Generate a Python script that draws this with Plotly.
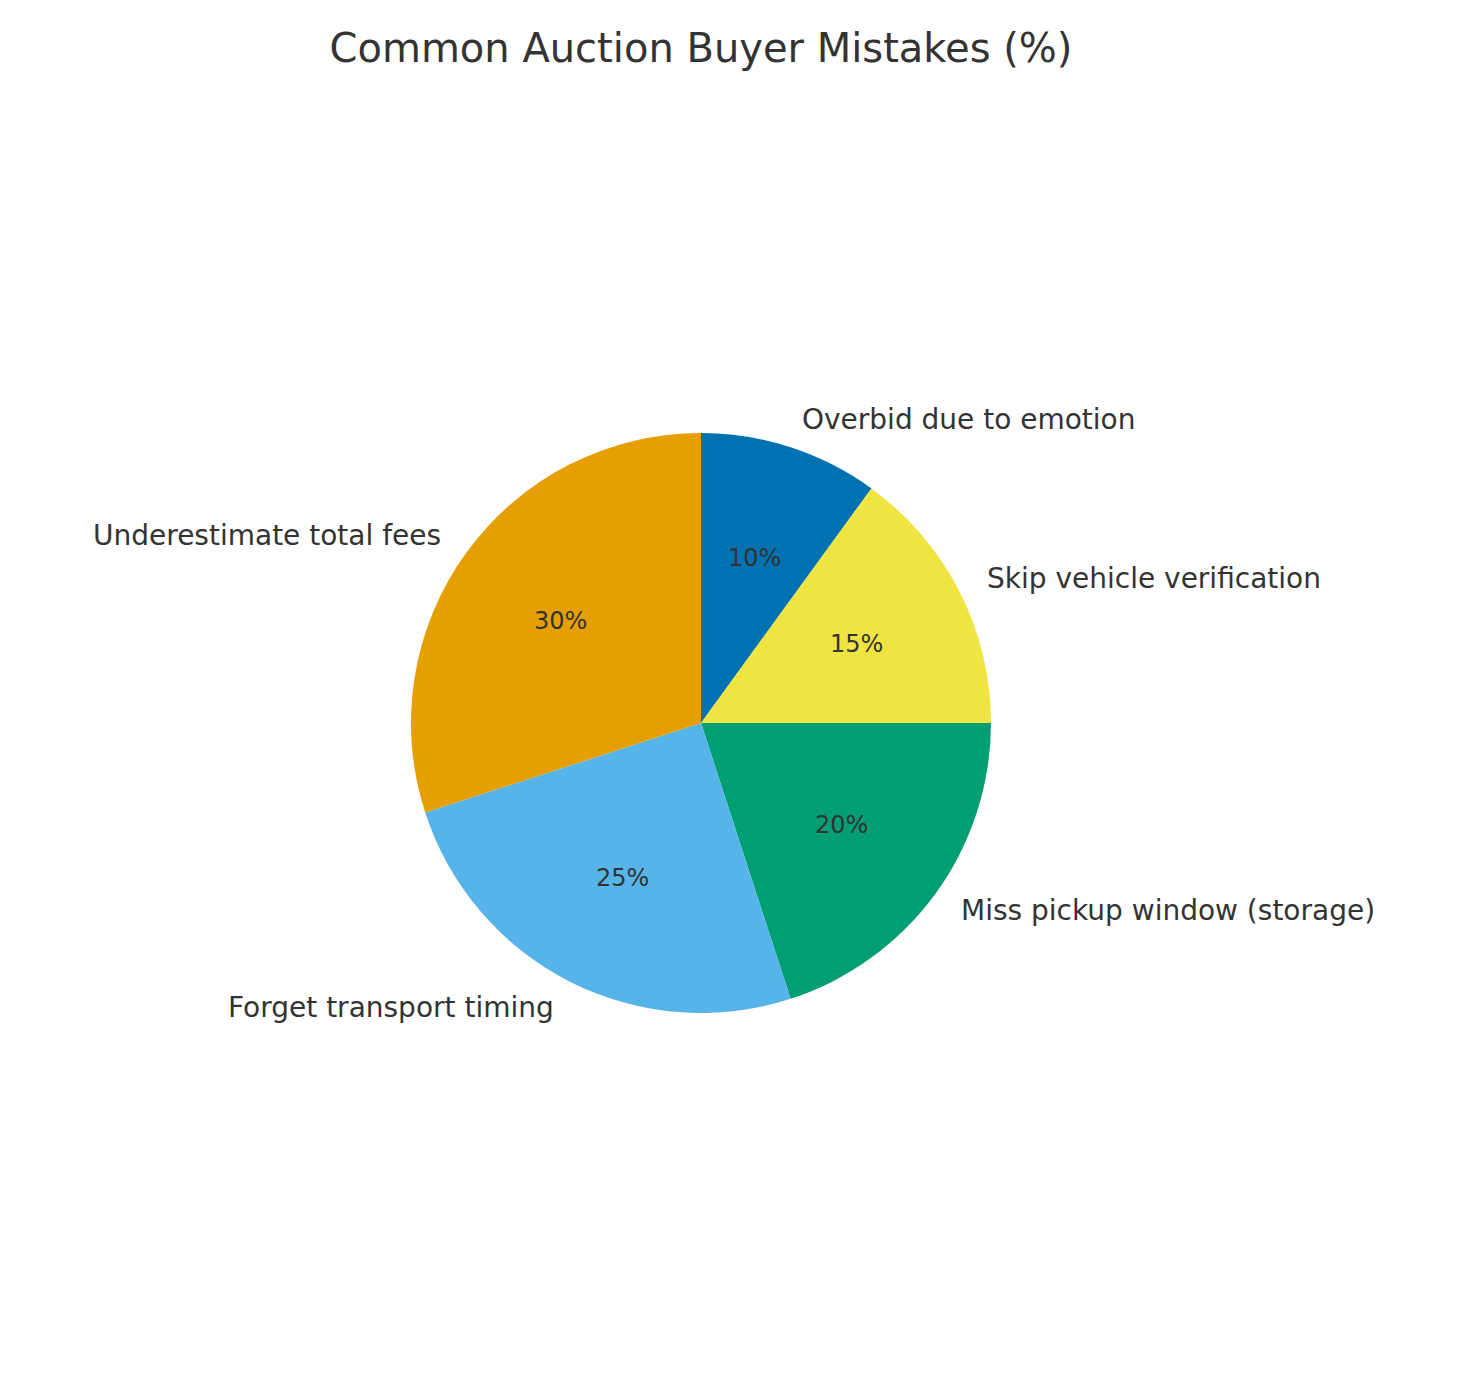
import math
import plotly.graph_objects as go

labels = ["Overbid due to emotion", "Skip vehicle verification", "Miss pickup window (storage)",
          "Forget transport timing", "Underestimate total fees"]
values = [10, 15, 20, 25, 30]
colors = ["#0072B2", "#F0E442", "#009E73", "#56B4E9", "#E69F00"]

W, H = 1465, 1380
cx, cy, R = 693, 715, 290

fig = go.Figure(go.Pie(
    labels=labels, values=values, sort=False, direction="clockwise", rotation=0,
    marker=dict(colors=colors, line=dict(width=0)), textinfo="none",
    hoverinfo="label+percent", showlegend=False,
    domain=dict(x=[(cx - R) / W, (cx + R) / W], y=[1 - (cy + R) / H, 1 - (cy - R) / H]),
))

total = sum(values)
cum = 0
ann = []
for lab, v in zip(labels, values):
    th = math.radians(90 - (cum + v / 2) / total * 360)
    cum += v
    lx = cx + 1.1 * R * math.cos(th); ly = cy - 1.1 * R * math.sin(th)
    ann.append(dict(x=lx / W, y=1 - ly / H, xref="paper", yref="paper", text=lab, showarrow=False,
                    xanchor="left" if math.cos(th) > 0 else "right", yanchor="middle",
                    font=dict(size=28, color="#333333", family="DejaVu Sans")))
    px = cx + 0.6 * R * math.cos(th); py = cy - 0.6 * R * math.sin(th)
    ann.append(dict(x=px / W, y=1 - py / H, xref="paper", yref="paper", text=f"{v / total * 100:.0f}%",
                    showarrow=False, xanchor="center", yanchor="middle",
                    font=dict(size=24, color="#333333", family="DejaVu Sans")))

fig.update_layout(
    width=W, height=H, margin=dict(l=0, r=0, t=0, b=0),
    paper_bgcolor="white", plot_bgcolor="white",
    title=dict(text="Common Auction Buyer Mistakes (%)", x=693 / W, xanchor="center",
               y=1 - 40 / H, yanchor="middle", font=dict(size=40, color="#333333", family="DejaVu Sans")),
    annotations=ann,
)
fig.write_html("out.html")
